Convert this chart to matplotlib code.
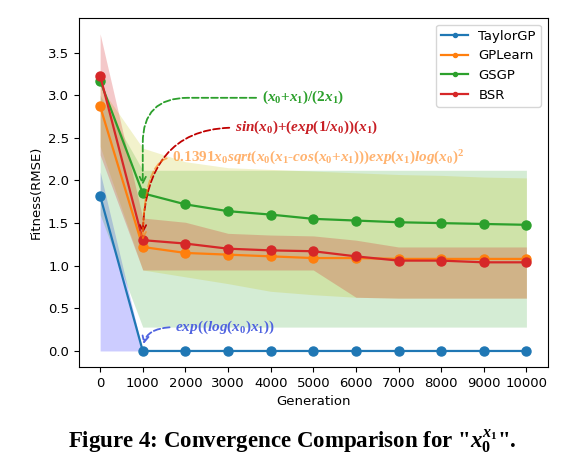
import numpy as np
import matplotlib
matplotlib.use('Agg')
import matplotlib.pyplot as plt

plt.rcParams['mathtext.fontset'] = 'custom'
plt.rcParams['mathtext.it'] = 'Liberation Serif:italic:bold'
plt.rcParams['mathtext.rm'] = 'Liberation Serif:bold'
plt.rcParams['mathtext.bf'] = 'Liberation Serif:bold'

generations = [0, 1000, 2000, 3000, 4000, 5000, 6000, 7000, 8000, 9000, 10000]

taylorgp = [1.82, 0, 0, 0, 0, 0, 0, 0, 0, 0, 0]
gplearn = [2.87, 1.22, 1.15, 1.13, 1.11, 1.09, 1.09, 1.08, 1.08, 1.08, 1.08]
gsgp = [3.17, 1.85, 1.72, 1.64, 1.60, 1.55, 1.53, 1.51, 1.50, 1.49, 1.48]
bsr = [3.23, 1.30, 1.26, 1.20, 1.18, 1.17, 1.11, 1.06, 1.06, 1.04, 1.04]

# spread bands
taylorgp_lo = [0, 0, 0, 0, 0, 0, 0, 0, 0, 0, 0]
taylorgp_hi = [2.1, 0, 0, 0, 0, 0, 0, 0, 0, 0, 0]
gplearn_lo = [2.4, 0.95, 0.87, 0.79, 0.70, 0.66, 0.63, 0.62, 0.62, 0.62, 0.62]
gplearn_hi = [3.1, 2.38, 2.22, 2.15, 2.13, 2.11, 2.09, 2.07, 2.06, 2.04, 2.03]
gsgp_lo = [1.6, 0.28, 0.28, 0.28, 0.28, 0.28, 0.28, 0.28, 0.28, 0.28, 0.28]
gsgp_hi = [3.0, 2.12, 2.12, 2.12, 2.12, 2.12, 2.12, 2.12, 2.12, 2.12, 2.12]
bsr_lo = [2.3, 0.95, 0.95, 0.95, 0.95, 0.95, 0.63, 0.62, 0.62, 0.62, 0.62]
bsr_hi = [3.72, 1.56, 1.51, 1.38, 1.36, 1.35, 1.30, 1.22, 1.22, 1.22, 1.22]

fig = plt.figure(figsize=(5.67, 4.62), dpi=100)
ax = fig.add_axes([0.139, 0.206, 0.827, 0.755])

ax.fill_between(generations, taylorgp_lo, taylorgp_hi, color='b', alpha=0.2, linewidth=0)
ax.fill_between(generations, gsgp_lo, gsgp_hi, color='tab:green', alpha=0.2, linewidth=0)
ax.fill_between(generations, gplearn_lo, gplearn_hi, color='y', alpha=0.2, linewidth=0)
ax.fill_between(generations, bsr_lo, bsr_hi, color='tab:red', alpha=0.25, linewidth=0)

ax.plot(generations, taylorgp, 'o-', color='tab:blue', label='TaylorGP', markersize=6.5, linewidth=1.6)
ax.plot(generations, gplearn, 'o-', color='tab:orange', label='GPLearn', markersize=6.5, linewidth=1.6)
ax.plot(generations, gsgp, 'o-', color='tab:green', label='GSGP', markersize=6.5, linewidth=1.6)
ax.plot(generations, bsr, 'o-', color='tab:red', label='BSR', markersize=6.5, linewidth=1.6)

ax.set_xticks(generations)
ax.set_yticks([0.0, 0.5, 1.0, 1.5, 2.0, 2.5, 3.0, 3.5])
ax.tick_params(labelsize=9.5)
ax.set_xlabel('Generation', fontsize=9.5)
ax.set_ylabel('Fitness(RMSE)', fontsize=9.5)
ax.legend(loc='upper right', fontsize=9.5, markerscale=0.45)

serif = dict(family='Liberation Serif', style='italic', weight='bold', fontsize=11,
             ha='left', va='center')

# best expressions found
ax.annotate(r'$\mathit{(x_0{+}x_1)/(2x_1)}$', xy=(1000, 1.85), xytext=(3790, 2.97),
            color='tab:green', **serif,
            arrowprops=dict(arrowstyle='->', linestyle='--', color='tab:green', lw=1.3,
                            relpos=(0, 0.5), shrinkB=6,
                            connectionstyle='angle,angleA=0,angleB=90,rad=45'))
ax.annotate(r'$\mathit{sin(x_0){+}(exp(1/x_0))(x_1)}$', xy=(1000, 1.30), xytext=(3160, 2.62),
            color='#c81e24', **serif,
            arrowprops=dict(arrowstyle='->', linestyle='--', color='#c00000', lw=1.3,
                            relpos=(0, 0.5), shrinkB=5,
                            connectionstyle='angle3,angleA=0,angleB=90'))
ax.annotate(r'$\mathit{0.1391x_0sqrt(x_0(x_1}$-$\mathit{cos(x_0{+}x_1)))exp(x_1)log(x_0)^2}$',
            xy=(1000, 1.22), xytext=(1690, 2.27),
            color='tab:orange', alpha=0.6, **serif,
            arrowprops=dict(arrowstyle='->', linestyle='--', color='tab:orange', alpha=0.6, lw=1.3,
                            relpos=(0, 0.5), shrinkB=5,
                            connectionstyle='angle3,angleA=0,angleB=90'))
ax.annotate(r'$\mathit{exp((log(x_0)x_1))}$', xy=(1000, 0.0), xytext=(1760, 0.28),
            color='#4f63e0', **serif,
            arrowprops=dict(arrowstyle='->', linestyle='--', color='#4f63e0', lw=1.3,
                            relpos=(0, 0.5), shrinkB=5,
                            connectionstyle='angle3,angleA=0,angleB=90'))

fig.text(0.515, 0.045, r'Figure 4: Convergence Comparison for "$\mathit{x_0^{x_1}}$".',
         ha='center', va='center', fontsize=16.5, family='Liberation Serif', weight='bold')

fig.savefig('out.png', dpi=100)
